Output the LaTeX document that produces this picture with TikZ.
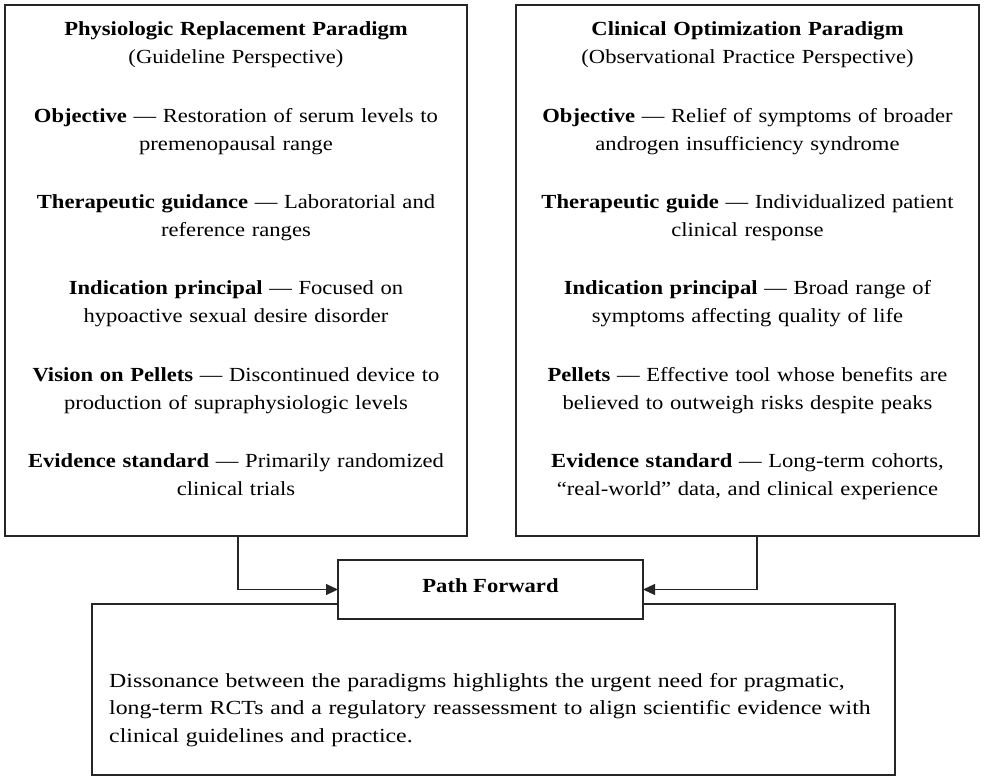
\documentclass[tikz,border=0pt]{standalone}
\usepackage{fontspec}
\setmainfont{Liberation Serif}[FakeStretch=1.13]
\newfontfamily\widefont{Liberation Serif}[FakeStretch=1.19]
\usetikzlibrary{arrows.meta}
\begin{document}
\begin{tikzpicture}[x=1pt,y=-1pt,
  box/.style={draw=black!85,line width=1.2pt,inner sep=0pt,outer sep=0pt},
  txt/.style={anchor=base,inner sep=0pt,align=center,text width=455pt,
    font=\fontsize{20}{28.5}\selectfont},
  arr/.style={draw=black!85,line width=1.2pt,-{Triangle[length=12pt,width=11pt]}}]
\useasboundingbox (0,0) rectangle (986,782);
% boxes
\node[box,minimum width=462pt,minimum height=531pt] (L) at (236,270.5) {};
\node[box,minimum width=463pt,minimum height=531pt] (R) at (747.5,270.5) {};
\node[box,minimum width=803pt,minimum height=171pt] (B) at (493.5,689.5) {};
\node[box,fill=white,minimum width=305pt,minimum height=59pt] (P) at (490.5,589.5) {};
% left column text
\node[txt] (l0) at (236,35) {\textbf{Physiologic Replacement Paradigm}\\(Guideline Perspective)};
\node[txt] (l1) at (236,122) {\textbf{Objective} --- Restoration of serum levels to\\premenopausal range};
\node[txt] (l2) at (236,208) {\textbf{Therapeutic guidance} --- Laboratorial and\\reference ranges};
\node[txt] (l3) at (236,294) {\textbf{Indication principal} --- Focused on\\hypoactive sexual desire disorder};
\node[txt] (l4) at (236,381) {\textbf{Vision on Pellets} --- Discontinued device to\\production of supraphysiologic levels};
\node[txt] (l5) at (236,467) {\textbf{Evidence standard} --- Primarily randomized\\clinical trials};
% right column text
\node[txt] (r0) at (747.5,35) {\textbf{Clinical Optimization Paradigm}\\(Observational Practice Perspective)};
\node[txt] (r1) at (747.5,122) {\textbf{Objective} --- Relief of symptoms of broader\\androgen insufficiency syndrome};
\node[txt] (r2) at (747.5,208) {\textbf{Therapeutic guide} --- Individualized patient\\clinical response};
\node[txt] (r3) at (747.5,294) {\textbf{Indication principal} --- Broad range of\\symptoms affecting quality of life};
\node[txt] (r4) at (747.5,381) {\textbf{Pellets} --- Effective tool whose benefits are\\believed to outweigh risks despite peaks};
\node[txt] (r5) at (747.5,467) {\textbf{Evidence standard} --- Long-term cohorts,\\``real-world'' data, and clinical experience};
% path forward
\node[anchor=base,inner sep=0pt,font=\fontsize{20}{28.5}\selectfont\bfseries] (pt) at (490.5,592) {Path Forward};
\node[anchor=base west,inner sep=0pt,align=left,text width=800pt,font=\widefont\fontsize{20}{27.5}\selectfont] (bt) at (109,687)
 {\makebox[758pt][s]{Dissonance between the paradigms highlights the urgent need for pragmatic,}\\\makebox[764pt][s]{long-term RCTs and a regulatory reassessment to align scientific evidence with}\\clinical guidelines and practice.};
% connectors
\coordinate (la) at (238,536);
\coordinate (ra) at (757,536);
\draw[arr] (la) |- (P.west);
\draw[arr] (ra) |- (P.east);
\end{tikzpicture}
\end{document}
